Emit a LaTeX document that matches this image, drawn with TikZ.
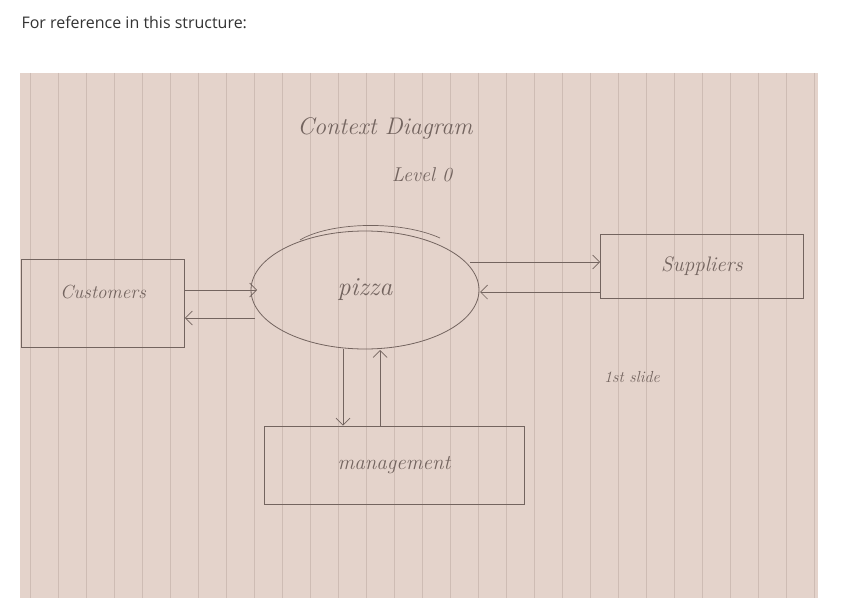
\documentclass[tikz,border=0pt]{standalone}
\usepackage{fontspec}
\newfontfamily\hdr{Open Sans}
\usetikzlibrary{arrows.meta,shapes.geometric}
\definecolor{paper}{RGB}{228,211,203}
\definecolor{rule}{RGB}{206,188,180}
\definecolor{pencil}{RGB}{115,100,95}
\tikzset{
  box/.style={draw=pencil, line width=0.8pt, inner sep=0pt},
  hand/.style={text=pencil},
  conn/.style={draw=pencil, line width=0.7pt, -{Straight Barb[length=7pt]}}
}
\newcommand{\fsz}[1]{\fontsize{#1}{#1}\selectfont\itshape}
\begin{document}
\begin{tikzpicture}[x=1pt,y=-1pt]
\useasboundingbox (0,0) rectangle (853,599);
\fill[white] (0,0) rectangle (853,599);
\node[anchor=west, font=\hdr\fontsize{16}{18}\selectfont, text=black!80] (hd) at (18,22) {For reference in this structure:};
\fill[paper] (20,73) rectangle (818,598);
\foreach \i in {0,...,28} {\draw[rule, line width=0.6pt] (30+\i*28,73) -- (30+\i*28,598);}
\node[hand, font=\fsz{24}] (t1) at (385,128) {Context Diagram};
\node[hand, font=\fsz{20}] (t2) at (422,175) {Level 0};
\node[box, minimum width=163, minimum height=88, hand, font=\fsz{19}, text depth=22pt] (cust) at (103,303) {Customers};
\node[box, ellipse, minimum width=228, minimum height=118, hand, font=\fsz{26}] (pizza) at (365,290) {pizza};
\node[box, minimum width=203, minimum height=64, hand, font=\fsz{21}] (sup) at (702,266) {Suppliers};
\node[box, minimum width=260, minimum height=78, hand, font=\fsz{21}] (man) at (394,465) {management};
\node[hand, font=\fsz{16}] (slide) at (632,377) {1st slide};
\draw[conn] (cust.east |- 0,290) -- (257,290);
\draw[conn] (255,318) -- (cust.east |- 0,318);
\draw[conn] (470,262) -- (sup.west |- 0,262);
\draw[conn] (sup.west |- 0,292) -- (480,292);
\draw[conn] (343,349) -- (man.north -| 343,0);
\draw[conn] (man.north -| 380,0) -- (380,350);
\draw[draw=pencil, line width=0.7pt] (300,240) .. controls (330,222) and (400,220) .. (440,238);
\end{tikzpicture}
\end{document}
